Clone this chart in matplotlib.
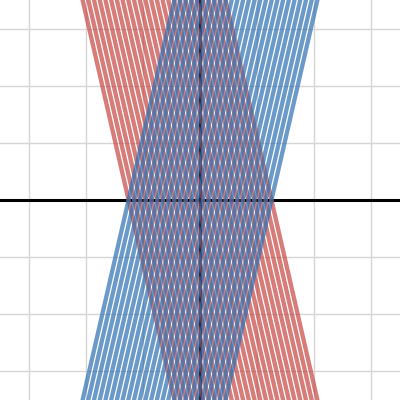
import numpy as np
import matplotlib
matplotlib.use('Agg')
import matplotlib.pyplot as plt

# x-intercepts of the line families
red_offsets = [round(-1.25 + 0.1 * i, 2) for i in range(26)]
blue_offsets = [round(-1.25 + 0.1 * i, 2) for i in range(26)]
red_slope = -4.35
blue_slope = 4.35

fig = plt.figure(figsize=(4, 4), dpi=100)
ax = fig.add_axes([0, 0, 1, 1])
ax.set_xlim(-3.5, 3.5)
ax.set_ylim(-3.5, 3.5)

for g in np.arange(-3, 4, 1):
    ax.axvline(g, color='#d6d6d6', lw=1, zorder=0)
    ax.axhline(g, color='#d6d6d6', lw=1, zorder=0)
ax.axhline(0, color='black', lw=2.2, zorder=1)
ax.axvline(0, color='black', lw=2.2, zorder=1)

ys = np.array([-4, 4])
for c in red_offsets:
    ax.plot(ys / red_slope + c, ys, color='#c74440', lw=3.1, alpha=0.7, zorder=2)
for c in blue_offsets:
    ax.plot(ys / blue_slope + c, ys, color='#2d70b3', lw=3.1, alpha=0.7, zorder=3)

ax.set_xticks([])
ax.set_yticks([])
for s in ax.spines.values():
    s.set_visible(False)
fig.savefig('out.png', dpi=100)
